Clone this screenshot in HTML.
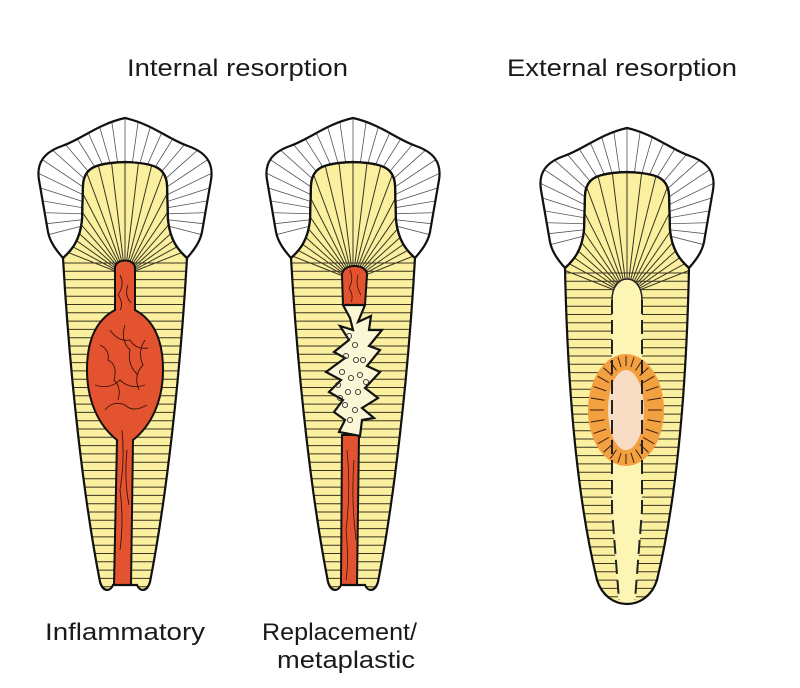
<!DOCTYPE html>
<html><head><meta charset="utf-8"><style>
html,body{margin:0;padding:0;background:#fff;width:800px;height:688px;overflow:hidden}
svg text{font-family:"Liberation Sans",sans-serif;fill:#1a1a1a;font-size:24px}
</style></head><body>
<svg id="s" width="800" height="688" viewBox="0 0 800 688" xmlns="http://www.w3.org/2000/svg">
<defs>
<clipPath id="ce"><path d="M63,258 C56,250 50,242 48,232 L39,180 C36,162 45,152 62,146 C82,139 98,124 125,118 C152,124 168,139 188,146 C205,152 214,162 211,180 L202,232 C200,242 194,250 187,258 C178,250 170,240 168,220 L167,185 C166,168 155,163 125,162 C95,163 84,168 83,185 L82,220 C80,240 72,250 63,258 Z"/></clipPath>
</defs>
<text x="127" y="76" textLength="221" lengthAdjust="spacingAndGlyphs">Internal resorption</text>
<text x="507" y="76" textLength="230" lengthAdjust="spacingAndGlyphs">External resorption</text>
<text x="45" y="640" textLength="160" lengthAdjust="spacingAndGlyphs">Inflammatory</text>
<text x="262" y="640" textLength="155" lengthAdjust="spacingAndGlyphs">Replacement/</text>
<text x="277" y="668" textLength="138" lengthAdjust="spacingAndGlyphs">metaplastic</text>
<g id="teeth"></g>
</svg>
<script>
var NS="http://www.w3.org/2000/svg";
var G=document.getElementById("teeth");
function el(p,t,a){var e=document.createElementNS(NS,t);for(var k in a)e.setAttribute(k,a[k]);p.appendChild(e);return e;}
var CROWN="M63,258 C72,250 80,240 82,220 L83,185 C84,168 95,163 125,162 C155,163 166,168 167,185 L168,220 C170,240 178,250 187,258 ";
var TOOTH=CROWN+"C180,380 166,500 150,582 C147,592 140,592 137,585 L113,585 C110,592 103,592 100,582 C84,500 70,380 63,258 Z";
var TOOTH3=CROWN+"C184,400 172,500 155,570 C145,602 105,602 95,570 C78,500 66,400 63,258 Z";
var ENAM="M63,258 C56,250 50,242 48,232 L39,180 C36,162 45,152 62,146 C82,139 98,124 125,118 C152,124 168,139 188,146 C205,152 214,162 211,180 L202,232 C200,242 194,250 187,258 C178,250 170,240 168,220 L167,185 C166,168 155,163 125,162 C95,163 84,168 83,185 L82,220 C80,240 72,250 63,258 Z";
function tooth(dx,dy,type){
  var g=el(G,"g",{transform:"translate("+dx+","+dy+")"});
  var id="cl"+type;
  var cp=el(g,"clipPath",{id:id});el(cp,"path",{d:type==3?TOOTH3:TOOTH});
  el(g,"path",{d:ENAM,fill:"#fff"});
  el(g,"path",{d:type==3?TOOTH3:TOOTH,fill:"#faf0a0"});
  var ge=el(g,"g",{"clip-path":"url(#ce)",stroke:"#555","stroke-width":"0.8"});
  for(var i=0;i<=26;i++){var a=Math.PI*(-0.08+1.16*i/26);var x=125-Math.cos(a)*160,y=215-Math.sin(a)*160;
    el(ge,"line",{x1:125,y1:215,x2:x,y2:y});}
  var gd=el(g,"g",{"clip-path":"url(#"+id+")",stroke:"#3a3520","stroke-width":"1"});
  var py=type==3?285:(type==2?280:275);
  for(var i=0;i<=20;i++){var a=Math.PI*(0.12+0.76*i/20);
    el(gd,"line",{x1:125,y1:py,x2:125-Math.cos(a)*150,y2:py-Math.sin(a)*150});}
  for(var y=263;y<600;y+=8.3){el(gd,"line",{x1:40,y1:y,x2:210,y2:y});}
  return g;
}
var t1=tooth(0,0,1);
el(t1,"path",{d:"M114,585 L117,440 C98,425 87,400 87,370 C87,335 100,318 115,310 L115,268 C115,258 135,258 135,268 L135,310 C150,318 163,335 163,370 C163,400 152,425 133,440 L131,585 Z",fill:"#e4532f",stroke:"#111","stroke-width":"2"});
var cr=el(t1,"g",{stroke:"#3a1408","stroke-width":"0.9",fill:"none"});
["M120,275 q5,10 -2,20 q6,8 2,15","M128,285 q-4,10 3,18","M100,345 q10,5 8,15 q10,5 6,20 q8,8 4,20","M110,330 q8,12 20,10 q6,10 18,8","M125,325 q-5,15 5,25 q-3,15 8,25","M145,340 q-8,12 -2,25 q-10,10 -4,25","M95,385 q15,5 25,-5 q10,10 25,5","M105,410 q8,-10 20,-5 q8,8 22,0","M122,430 q3,30 -2,60 q4,30 0,60","M127,450 q-3,30 2,55"].forEach(function(d){el(cr,"path",{d:d});});
el(t1,"path",{d:TOOTH,fill:"none",stroke:"#111","stroke-width":"2.2"});
el(t1,"path",{d:ENAM,fill:"none",stroke:"#111","stroke-width":"2.2"});
var t2=tooth(228,0,2);
el(t2,"path",{d:"M113,585 L114,435 L131,435 L129,585 Z",fill:"#e4532f",stroke:"#111","stroke-width":"2"});
el(t2,"path",{d:"M115,305 L114,275 C114,263 139,263 139,275 L137,305 Z",fill:"#e4532f",stroke:"#111","stroke-width":"2"});
el(t2,"path",{d:"M115,305 L122,318 L125,330 L112,326 L121,340 L106,352 L117,358 L98,372 L113,380 L101,392 L115,400 L106,412 L117,420 L111,432 L132,436 L134,420 L146,418 L134,408 L150,398 L137,388 L152,372 L139,366 L152,350 L141,346 L154,330 L141,330 L143,316 L130,322 L137,305 Z",fill:"#fbf6d6",stroke:"#111","stroke-width":"2.2"});
var cc=el(t2,"g",{fill:"none",stroke:"#333","stroke-width":"0.9"});
[[121,336],[127,345],[118,356],[128,360],[114,372],[123,378],[132,375],[110,385],[120,392],[130,392],[117,405],[127,410],[138,382],[122,420],[112,398],[135,360]].forEach(function(p){el(cc,"circle",{cx:p[0],cy:p[1],r:2.6});});
var c2=el(t2,"g",{stroke:"#3a1408","stroke-width":"0.8",fill:"none"});
["M122,270 q4,10 -1,18 q5,8 2,14","M130,275 q-3,10 3,20","M119,450 q4,40 -1,80 q3,30 0,50","M126,460 q-3,40 2,80"].forEach(function(d){el(c2,"path",{d:d});});
el(t2,"path",{d:TOOTH,fill:"none",stroke:"#111","stroke-width":"2.2"});
el(t2,"path",{d:ENAM,fill:"none",stroke:"#111","stroke-width":"2.2"});
var t3=tooth(502,10,3);
var pg=el(t3,"g",{"clip-path":"url(#cl3)"});
el(pg,"path",{d:"M110,290 L110,500 L117,600 L133,600 L140,500 L140,290 C140,262 110,262 110,290 Z",fill:"#fdf5b4"});
el(t3,"ellipse",{cx:124,cy:400,rx:38,ry:56,fill:"#f2a040"});
el(t3,"ellipse",{cx:124,cy:400,rx:18,ry:40,fill:"#f8dcc4"});
var rd=el(t3,"g",{stroke:"#3a2010","stroke-width":"1"});
for(var i=0;i<28;i++){var a=2*Math.PI*i/28;var c=Math.cos(a),s=Math.sin(a);
  el(rd,"line",{x1:124+c*22,y1:400+s*44,x2:124+c*36,y2:400+s*54});}
el(t3,"path",{d:"M110,290 L110,500 L117,590 M140,290 L140,500 L133,590",stroke:"#222","stroke-width":"2","stroke-dasharray":"14 6",fill:"none"});
el(t3,"path",{d:"M110,290 C110,262 140,262 140,290",stroke:"#222","stroke-width":"1.5",fill:"none"});
el(t3,"path",{d:TOOTH3,fill:"none",stroke:"#111","stroke-width":"2.2"});
el(t3,"path",{d:ENAM,fill:"none",stroke:"#111","stroke-width":"2.2"});
</script>
</body></html>
